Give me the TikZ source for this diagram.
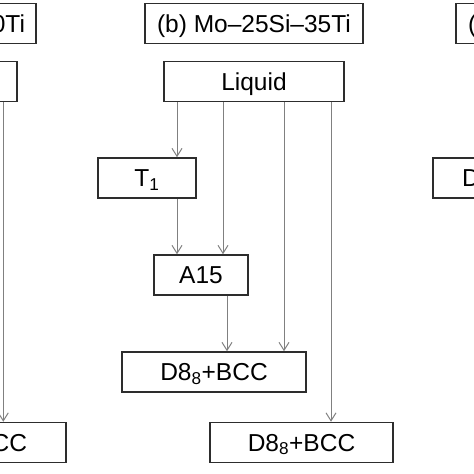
\documentclass[tikz,border=0pt]{standalone}
\usepackage{fontspec}
\setmainfont{Liberation Sans}
\usetikzlibrary{arrows.meta}
\definecolor{edgegray}{RGB}{128,128,128}
\definecolor{boxgray}{RGB}{45,45,45}

\begin{document}
\begin{tikzpicture}[x=1pt,y=-1pt]
      \tikzset{BoxStyle/.style = {draw=boxgray, line width=1.5pt, fill=white,
          minimum height=40pt, inner sep=0pt, text height=17.5pt, text depth=0pt,
          font=\fontsize{24.5}{28}\selectfont}}
      \tikzset{EdgeStyle/.style = {draw=edgegray, line width=1pt,
          -{Straight Barb[length=8pt,width=10pt]}}}

      \path[use as bounding box, clip] (0,0) rectangle (474,474);

      % column (a), cut at the left
      \node[BoxStyle, text width=196pt, inner xsep=11pt, align=right] (TitleA) at (-73,23.5) {0Ti};
      \node[BoxStyle, minimum width=180pt] (LiquidA) at (-73,81.5) {};
      \node[BoxStyle, text width=105pt, inner xsep=39pt, align=right] (DA) at (-25.5,442.5) {CC};

      % column (b)
      \node[BoxStyle, minimum width=218pt] (TitleB) at (254,23.5) {(b) Mo--25Si--35Ti};
      \node[BoxStyle, minimum width=180pt] (Liquid) at (254,81.5) {Liquid};
      \node[BoxStyle, minimum width=98pt] (T) at (147,178) {T\textsubscript{1}};
      \node[BoxStyle, minimum width=94pt] (A) at (201,275) {A15};
      \node[BoxStyle, minimum width=184pt] (D) at (214,372) {D8\textsubscript{8}+BCC};
      \node[BoxStyle, minimum width=183pt] (DD) at (301.5,442.5) {D8\textsubscript{8}+BCC};

      % column (c), cut at the right
      \node[BoxStyle, text width=194pt, inner xsep=12pt, align=left] (TitleC) at (565,23.5) {(};
      \node[BoxStyle, text width=126pt, inner xsep=29pt, align=left] (DC) at (525,178) {D};

      \draw[EdgeStyle] (LiquidA.south -| 3.3,0) -- (DA.north -| 3.3,0);
      \foreach \x/\dest in {177/T, 223/A, 284/D, 331/DD}
        \draw[EdgeStyle] (Liquid.south -| \x,0) -- (\dest.north -| \x,0);
      \draw[EdgeStyle] (T.south -| 177,0) -- (A.north -| 177,0);
      \draw[EdgeStyle] (A.south -| 227,0) -- (D.north -| 227,0);
    \end{tikzpicture}
\end{document}
